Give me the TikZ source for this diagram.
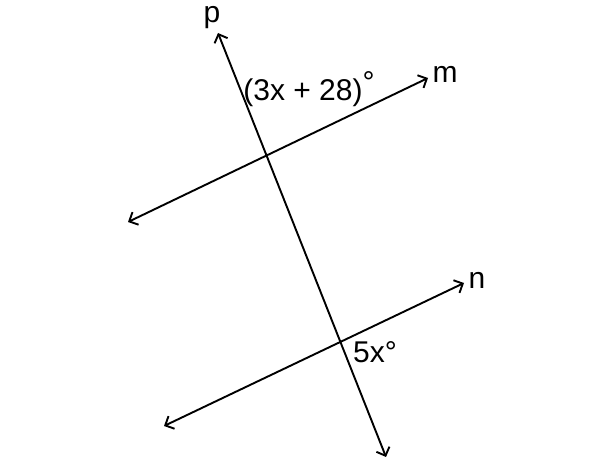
\documentclass[tikz,border=0pt]{standalone}
\usepackage{fontspec}
\setmainfont{Liberation Sans}
\usetikzlibrary{arrows.meta}

\begin{document}
\begin{tikzpicture}[x=1pt,y=-1pt,line width=1.9pt,
  >={Straight Barb[length=7pt,width=14pt]},
  lbl/.style={inner sep=0pt,font=\fontsize{30}{36}\selectfont}]
\useasboundingbox (0,0) rectangle (606,465);

\coordinate (pTop) at (218,33);
\coordinate (pBot) at (386,457);
\coordinate (mLeft) at (128,222);
\coordinate (mRight) at (428,78);
\coordinate (nLeft) at (164,426);
\coordinate (nRight) at (464,283);

\draw[<->] (pTop) -- (pBot);
\draw[<->] (mLeft) -- (mRight);
\draw[<->] (nLeft) -- (nRight);

\node[lbl] (pLabel) at (212,18) {p};
\node[lbl] (mLabel) at (445,74) {m};
\node[lbl] (nLabel) at (477,280) {n};
\node[lbl] (angTop) at (309,89) {(3x + 28)\raisebox{8pt}{°}};
\node[lbl] (angBot) at (375,352) {5x°};

\end{tikzpicture}
\end{document}
